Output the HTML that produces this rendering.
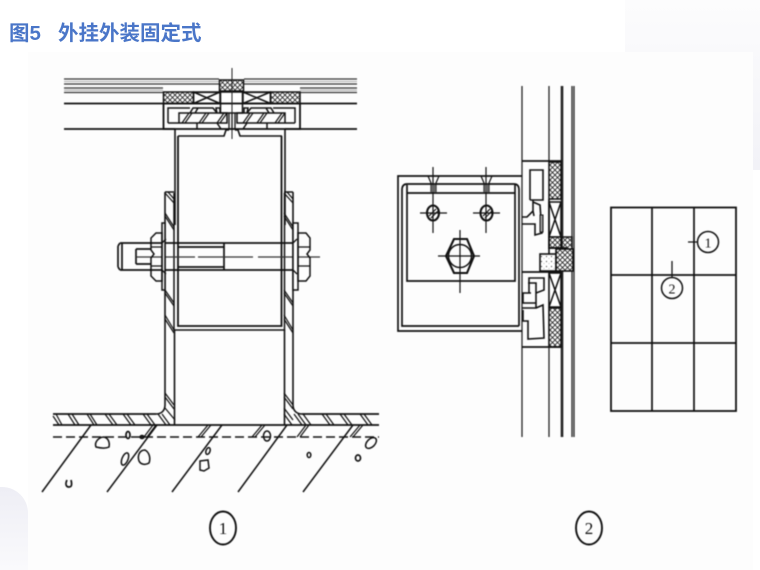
<!DOCTYPE html>
<html lang="zh">
<head>
<meta charset="utf-8">
<title>图5 外挂外装固定式</title>
<style>
html,body{margin:0;padding:0;background:#fff}
#p{position:relative;width:760px;height:570px;overflow:hidden;background:#fff}
.tr{position:absolute;left:625px;top:0;width:135px;height:170px;background:linear-gradient(180deg,#fcfcfd,#f2f2f7)}
.bl{position:absolute;left:0;top:487px;width:28px;height:83px;background:linear-gradient(180deg,#eeeef5,#fafafc);border-top-right-radius:26px}
.m{position:absolute;left:28px;top:52px;width:725px;height:518px;background:#fdfdfd}
h1{position:absolute;margin:0;left:9px;top:19px;font:bold 20.5px/30px "Liberation Sans","Noto Sans CJK SC",sans-serif;color:#4a76c8;white-space:pre}
h1 span{position:absolute;left:49px;top:0}
svg{position:absolute;left:0;top:0;filter:blur(.5px)}
text{font-family:"Liberation Serif",serif;fill:#111}
</style>
</head>
<body>
<div id="p">
<div class="tr"></div><div class="bl"></div><div class="m"></div>
<h1>图5<span>外挂外装固定式</span></h1>
<svg width="760" height="570" viewBox="0 0 760 570" fill="none" stroke="#111" stroke-width="1.500">
<defs>
<pattern id="c" width="5" height="5" patternUnits="userSpaceOnUse">
<rect width="5" height="5" fill="#fff" stroke="none"/>
<path d="M0,0L5,5M5,0L0,5" stroke="#222" stroke-width=".8"/>
</pattern>
<pattern id="d" width="5" height="5" patternUnits="userSpaceOnUse">
<rect width="5" height="5" fill="#fff" stroke="none"/>
<circle cx="1.500" cy="1.500" r=".6" fill="#444" stroke="none"/>
<circle cx="4" cy="3.500" r=".4" fill="#777" stroke="none"/>
</pattern>
</defs>

<!-- DRAWING 1: top -->
<path d="M64,79H219M244,79H357M64,84H219M244,84H357M64,88H163M300,88H357M64,92.500H220M243,92.500H357" stroke="#333" stroke-width="1.300"/>
<path d="M64,81.500H219M244,81.500H357M64,90.200H163M300,90.200H357" stroke="#999" stroke-width=".8"/>
<path d="M64,103.500H163M300,103.500H357M64,129H175M285,129H357" stroke-width="1.700"/>
<rect x="219.500" y="80" width="24" height="11" fill="url(#c)"/>
<rect x="220.500" y="92" width="22" height="21" fill="#fff"/>
<rect x="163.500" y="92" width="30" height="11.500" fill="url(#c)"/>
<rect x="270.500" y="92" width="29.500" height="11.500" fill="url(#c)"/>
<path d="M193.500,92H220V103.500H193.500ZM193.500,92L220,103.500M193.500,103.500L220,92M243,92H270.500V103.500H243ZM243,92L270.500,103.500M243,103.500L270.500,92"/>
<rect x="163.500" y="103.500" width="136.500" height="25.500" stroke-width="1.800"/>
<path d="M168,123V108H190M168,123H179M179,123V113H190L193,108H213L217,113M195,113L198,108H213M217,113L216,108H220V113M179,113H227V123H179M197,123V129M217,123L221,129"/>
<path d="M295,123V108H273M295,123H285M285,123V113H274L271,108H251L247,113M269,113L266,108H251M247,113L248,108H244V113M285,113H237V123H285M267,123V129M247,123L243,129"/>
<path d="M182,123L189,113M185,123L192,113M199,123L206,113M202,123L209,113M217,123L224,113M220,123L227,113M243,123L250,113M246,123L253,113M257,123L264,113M260,123L267,113M275,123L282,113M278,123L285,113" stroke-width="1.200"/>
<path d="M232,68V139" stroke="#222" stroke-width="1"/>
<path d="M229,113V130M235,113V130M232,113V130" stroke-width="1.300"/>

<!-- tube -->
<path d="M175,129V225M285,129V225M178,136H224L226,130H229M282,136H240L238,130H235" stroke-width="1.600"/>
<path d="M178,136V326H281.500V136" stroke-width="1.800"/>
<path d="M174,193V330H284.500V193" stroke-width="1.500"/>
<path d="M165,192H174M284,192H293M165,192V405C165,410 162,414 156,414M174.500,330V425M284.500,330V425M293,192V405C293,410 296,414 302,414" stroke-width="1.600"/>

<!-- wall hatch -->
<path d="M165,193L174,203M168,192L174,199M165,213L174,227M165,216L174,230M165,290L174,303M165,293L174,306M165,315L174,330M165,319L174,333M165,393L174,405M165,397L174,409M165,408L175,420M284,193L293,203M287,192L293,199M284,213L293,227M284,216L293,230M284,290L293,303M284,293L293,306M284,315L293,330M284,319L293,333M284,393L293,405M284,397L293,409M284,408L293,420" stroke-width="1.200"/>

<!-- bolt -->
<path d="M150,243H298M150,270H298M224,243V270M178,247H224M178,267H224" stroke-width="1.700"/>
<path d="M120,243H151M120,270H151M118,246V267M120,243L118,246M120,270L118,267M122,243V270M136,249V264M136,249H151M136,264H151" stroke-width="1.700"/>
<path d="M136,257H195M198,257H253M258,257H320" stroke="#333" stroke-width="1.200"/>
<path d="M162,223H165V290H162ZM293,223H298V290H293Z" fill="#fff"/>
<path d="M162,233H156L151,238V250L154,254L151,258V276L156,281H162ZM298,233H306L310,238V250L307,254L310,258V276L306,281H298Z"/>
<path d="M151,247H162M151,266H162M298,247H310M298,266H310" stroke-width="1.300"/>
<path d="M162,243L166,239M162,270L166,274M293,243L297,239M293,270L297,274" stroke-width="1.300"/>

<!-- floor -->
<path d="M53,414H156M302,414H379M53,425H379" stroke-width="1.800"/>
<path d="M53,416L59,425M56,414L62,425M68,414L75,425M72,414L79,425M87,414L94,425M90,414L97,425M105,414L113,425M109,414L117,425M123,414L131,425M127,414L135,425M143,414L151,425M147,414L155,425M162,414L170,425M158,414L166,425M284,414L292,425M294,414L302,425M298,414L306,425M303,414L311,425M322,414L330,425M326,414L334,425M340,414L348,425M344,414L352,425M360,414L368,425M364,414L372,425" stroke-width="1.200"/>
<path d="M53,437H379" stroke-dasharray="9 4"/>
<path d="M91,425L42,492M157,425L107,492M222,425L172,492M287,425L238,492M353,425L303,492"/>
<path d="M153,425L144,437M156,425L147,437M208,425L198,437M211,425L201,437M262,425L252,437M265,425L255,437M306,425L297,437M309,425L300,437M360,425L350,437M363,425L353,437" stroke-width="1.200"/>
<path d="M96,447C94,442 99,437 104,437C108,438 110,442 109,447C105,449 100,448 96,447Z"/>
<ellipse cx="128" cy="435" rx="2" ry="3.500" stroke-width="1.700"/>
<ellipse cx="142" cy="437" rx="2" ry="1.500" fill="#222"/>
<ellipse cx="125" cy="459" rx="3" ry="6.500" transform="rotate(22 125 459)"/>
<path d="M139,461C137,455 140,450 145,450C149,452 151,458 149,463C146,465 141,465 139,461Z"/>
<path d="M67,480C65,484 66,487 69,487C72,487 72,484 71,480" stroke-width="1.700"/>
<ellipse cx="208" cy="451" rx="2" ry="3.500" transform="rotate(20 208 451)"/>
<path d="M200,461L208,460L209,468L204,471L200,470Z"/>
<ellipse cx="267" cy="436" rx="3.500" ry="5"/>
<ellipse cx="371" cy="443" rx="6.500" ry="4" transform="rotate(-45 371 443)"/>
<ellipse cx="309" cy="455" rx="1.800" ry="2.500"/>
<ellipse cx="358" cy="458" rx="2.500" ry="3" stroke-width="1.700"/>

<ellipse cx="223" cy="528" rx="13" ry="16.500" stroke-width="1.900"/>
<text x="223" y="534" font-size="17" text-anchor="middle" stroke="none">1</text>

<!-- DRAWING 2: verticals -->
<path d="M522,86V437M549,86V162M549,272V437M572,86V437M574,86V437" stroke="#222" stroke-width="1.300"/>
<path d="M562,86V437" stroke="#222" stroke-width="2.600"/>

<!-- bracket -->
<path d="M522,176H398V331H522" stroke-width="1.700"/>
<path d="M519,326H402V190Q402,184 407,184H514Q519,184 519,190V326" stroke-width="1.700"/>
<path d="M407,185V281H515V185M407,193H515" stroke-width="1.700"/>

<!-- screws -->
<path d="M433,167V233M420,213H447M486,167V233M473,213H500M428,176L431,183V192M439,176L436,183V192M481,176L484,183V192M492,176L489,183V192" stroke-width="1.200"/>
<rect x="431" y="185" width="5" height="7" fill="#666" stroke="none"/>
<rect x="484" y="185" width="5" height="7" fill="#666" stroke="none"/>
<ellipse cx="433" cy="213" rx="6" ry="7.500" stroke-width="2.100"/>
<ellipse cx="486.500" cy="213" rx="6" ry="7.500" stroke-width="2.100"/>
<path d="M429,216L436,209M431,218L438,211M483,216L490,209M485,218L492,211" stroke-width="1.200"/>

<!-- hex -->
<path d="M454,239H467L474,256L467,273H454L446,256Z" stroke-width="2.100"/>
<circle cx="460" cy="256" r="11.500"/>
<path d="M460,230V293M438,256H480" stroke-width="1.200"/>

<!-- upper profile -->
<path d="M522,161H562" stroke-width="1.700"/>
<rect x="549" y="162" width="12" height="37" fill="url(#c)"/>
<path d="M549,202H561V237H549ZM549,202L561,237M561,202L549,237" fill="#fff"/>
<rect x="549" y="237" width="12" height="11" fill="url(#c)"/>
<rect x="562" y="237" width="10" height="13" fill="url(#c)"/>
<path d="M549,199V248H567" stroke-width="1.700"/>
<path d="M530,200V170H543V200H530M533,202L540,205L542,233L535,235V224H522M522,217H527L533,211L534,216M533,200V211" stroke-width="1.600"/>
<path d="M540,215H543V232H540Z" fill="#999" stroke-width="1"/>

<!-- middle blocks -->
<rect x="540" y="254" width="16" height="17" fill="url(#d)" stroke-width="1.600"/>
<rect x="556" y="249" width="17" height="22" fill="url(#c)" stroke-width="1.600"/>
<path d="M549,248V254" stroke-width="1.600"/>

<!-- lower profile -->
<path d="M522,272H561" stroke-width="1.700"/>
<path d="M549,273H561V307H549ZM549,273L561,307M561,273L549,307" fill="#fff"/>
<rect x="549" y="308" width="12" height="39" fill="url(#c)"/>
<path d="M522,347H562" stroke-width="1.700"/>
<path d="M529,293V278H544V290L536,293V308H522M528,283H536V303H523V293H531M536,308L543,305L544,338L528,339V321H523V310" stroke-width="1.600"/>

<ellipse cx="589" cy="528" rx="13" ry="16.500" stroke-width="1.900"/>
<text x="589" y="534" font-size="17" text-anchor="middle" stroke="none">2</text>

<!-- DRAWING 3: grid -->
<rect x="611" y="207.500" width="125" height="203.500" stroke-width="1.800"/>
<path d="M652,207V411M694,207V411M611,275H736M611,343H736" stroke-width="1.700"/>
<circle cx="708" cy="242" r="10.500" fill="#fdfdfd"/>
<path d="M688,242H697M672,261V277" stroke-width="1.300"/>
<text x="708" y="247.500" font-size="14" text-anchor="middle" stroke="none">1</text>
<circle cx="672" cy="288" r="10.500" fill="#fdfdfd"/>
<text x="672" y="293.500" font-size="14" text-anchor="middle" stroke="none">2</text>
</svg>
</div>
</body>
</html>
